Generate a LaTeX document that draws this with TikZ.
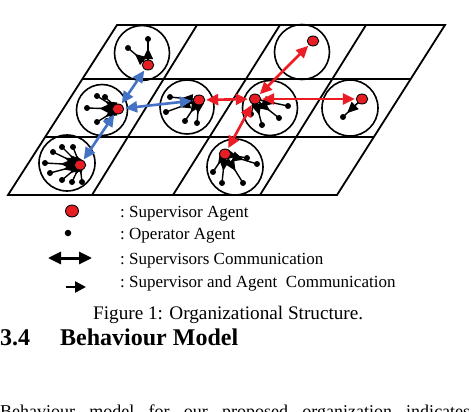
\documentclass[tikz,border=0pt]{standalone}
\usepackage{fontspec}
\setmainfont{Liberation Serif}
\usetikzlibrary{arrows.meta,calc,shapes.geometric}
\definecolor{supred}{RGB}{230,30,36}
\definecolor{comblue}{RGB}{68,114,196}
\definecolor{comred}{RGB}{236,28,36}
\tikzset{
  gridline/.style={line width=1.8pt, line join=miter},
  cell/.style={circle, draw, line width=1.6pt, minimum size=55pt, inner sep=0pt},
  sup/.style={ellipse, draw=black, line width=0.9pt, fill=supred, minimum width=11.5pt, minimum height=10pt, inner sep=0pt},
  opdot/.style={circle, fill=black, minimum size=5.5pt, inner sep=0pt},
  opline/.style={line width=1.4pt},
  ophead/.style={line width=1.4pt, -{Triangle[length=11pt,width=10pt]}},
  bluecom/.style={draw=comblue, line width=2.6pt, {Triangle[length=12pt,width=11pt]}-{Triangle[length=12pt,width=11pt]}, shorten <=1pt, shorten >=1pt},
  redcom/.style={draw=comred, line width=2.6pt, {Triangle[length=12pt,width=11pt]}-{Triangle[length=12pt,width=11pt]}, shorten <=1pt, shorten >=1pt},
  legtext/.style={anchor=base west, inner sep=0pt, font=\fontsize{17}{20}\selectfont},
}
\newcommand\opsgroup[3]{%
  \foreach \ox/\oy in {#3}{%
    \draw[opline] (#1) -- (\ox,\oy);
    \draw[ophead] (#1) -- ($(#1)!#2!(\ox,\oy)$);
    \fill (\ox,\oy) circle[radius=3pt];
  }}
\begin{document}
\begin{tikzpicture}[x=1pt,y=-1pt]
\useasboundingbox (0,0) rectangle (474,412);
\clip (0,0) rectangle (474,412);

% grid
\coordinate (TL) at (117,25);
\coordinate (TR) at (445,25);
\coordinate (BL) at (8,195);
\coordinate (BR) at (337,195);
\coordinate (T1) at (197,25); \coordinate (B1) at (92,195);
\coordinate (T2) at (280,25); \coordinate (B2) at (173,195);
\coordinate (T3) at (366,25); \coordinate (B3) at (260,195);
\draw[gridline] (TL) -- (TR) -- (BR) -- (BL) -- cycle;
\draw[gridline] (T1) -- (B1);
\draw[gridline] (T2) -- (B2);
\draw[gridline] (T3) -- (B3);
\draw[gridline] ($(TL)!0.3176!(BL)$) -- ($(TR)!0.3176!(BR)$);
\draw[gridline] ($(TL)!0.6588!(BL)$) -- ($(TR)!0.6588!(BR)$);

% cells
\node[cell] (cA0) at (142,53) {};
\node[cell] (cA2) at (302,52) {};
\node[cell, minimum size=51pt] (cB0) at (102,110) {};
\node[cell, minimum size=54pt] (cB1) at (187,107) {};
\node[cell] (cB2) at (270,108) {};
\node[cell, minimum size=56pt] (cB3) at (350,108) {};
\node[cell, minimum size=56pt] (cC0) at (67,163) {};
\node[cell, minimum size=56pt] (cC2) at (235,167) {};

% supervisor positions
\coordinate (pA0) at (148,65);
\coordinate (pA2) at (313,41);
\coordinate (pB0) at (118,109);
\coordinate (pB1) at (199,100);
\coordinate (pB2) at (255,99);
\coordinate (pB3) at (362,99);
\coordinate (pC0) at (80,165);
\coordinate (pC2) at (225,154);

% operators and supervisor-agent communication
\opsgroup{pA0}{0.65}{128/48,148/39}
\opsgroup{pB0}{0.6}{97/96,105/97,87/108,97/122,107/121}
\opsgroup{pB1}{0.6}{170/97,166/112,185/121,197/123}
\opsgroup{pB2}{0.62}{288/106,279/118,262/125,251/114}
\opsgroup{pB3}{0.78}{343/117}
\opsgroup{pC0}{0.55}{53/152,62/147,73/147,45/163,50/173,62/180,72/182,82/182}
\opsgroup{pC2}{0.58}{213/172,222/183,243/183,257/164,247/158}

% supervisors
\node[sup] (sA0) at (pA0) {};
\node[sup] (sA2) at (pA2) {};
\node[sup] (sB0) at (pB0) {};
\node[sup] (sB1) at (pB1) {};
\node[sup] (sB2) at (pB2) {};
\node[sup] (sB3) at (pB3) {};
\node[sup] (sC0) at (pC0) {};
\node[sup] (sC2) at (pC2) {};

% supervisors communication
\draw[bluecom] (sA0) -- (sB0);
\draw[bluecom] (sB1) -- (sB0);
\draw[bluecom] (sB0) -- (sC0);
\draw[redcom] (sB1) -- (sB2);
\draw[redcom] (sB2) -- (sA2);
\draw[redcom] (sB2) -- (sB3);
\draw[redcom] (sB2) -- (sC2);

% legend
\node[sup, minimum width=13pt, minimum height=12pt] (lsup) at (72,211) {};
\node[opdot, minimum size=6.5pt] (lop) at (68,233) {};
\coordinate (ld1) at (48,258);
\coordinate (ld2) at (92,258);
\draw[line width=3pt, {Triangle[length=13pt,width=12pt]}-{Triangle[length=13pt,width=12pt]}] (ld1) -- (ld2);
\coordinate (la1) at (66,287);
\coordinate (la2) at (86,287);
\draw[line width=2.5pt, -{Triangle[length=11pt,width=11pt]}] (la1) -- (la2);

\node[legtext] (k1) at (120,217) {:};
\node[legtext] (t1) at (129,217) {Supervisor Agent};
\node[legtext] (k2) at (120,239) {:};
\node[legtext] (t2) at (129,239) {Operator Agent};
\node[legtext] (k3) at (120,264) {:};
\node[legtext] (t3) at (129,264) {Supervisors Communication};
\node[legtext] (k4) at (120,287) {:};
\node[legtext] (t4) at (129,287) {Supervisor and Agent\ \ Communication};

% caption and text
\node[anchor=base west, inner sep=0pt, font=\fontsize{19.2}{22}\selectfont] (cap) at (93,319) {Figure 1: Organizational Structure.};
\node[anchor=base west, inner sep=0pt, font=\fontsize{24}{28}\selectfont\bfseries] (hnum) at (0,345) {3.4};
\node[anchor=base west, inner sep=0pt, font=\fontsize{24}{28}\selectfont\bfseries] (htitle) at (60,345) {Behaviour Model};
\node[anchor=base west, inner sep=0pt, font=\fontsize{18}{22}\selectfont] (body) at (0,417) {\makebox[470pt][s]{Behaviour model for our proposed organization indicates}};
\end{tikzpicture}
\end{document}
